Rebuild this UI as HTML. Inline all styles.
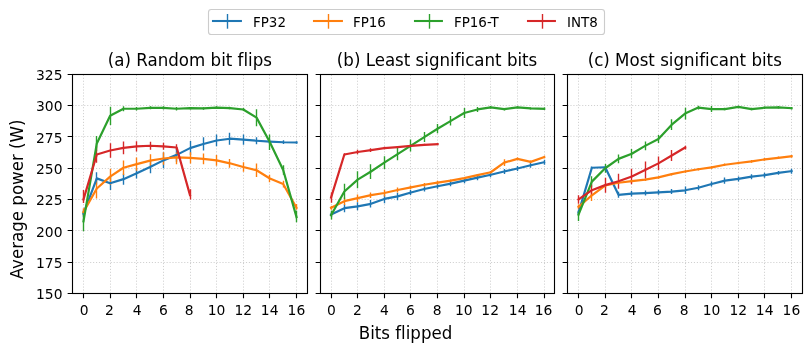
<!DOCTYPE html>
<html><head><meta charset="utf-8"><title>Average power vs bits flipped</title>
<style>html,body{margin:0;padding:0;background:#fff;width:811px;height:353px;overflow:hidden}</style>
</head><body>
<svg width="811" height="353" viewBox="0 0 811 353" style="display:block;position:absolute;left:0;top:0;font-variant-ligatures:none;font-feature-settings:&quot;liga&quot; 0,&quot;clig&quot; 0" font-family="'DejaVu Sans', 'Liberation Sans', sans-serif">
<rect width="811" height="353" fill="#fff"/>
<path d="M83.5 293.5V74.5M110.5 293.5V74.5M136.5 293.5V74.5M163.5 293.5V74.5M190.5 293.5V74.5M216.5 293.5V74.5M243.5 293.5V74.5M269.5 293.5V74.5M296.5 293.5V74.5M72.5 293.5H307.5M72.5 262.5H307.5M72.5 230.5H307.5M72.5 199.5H307.5M72.5 168.5H307.5M72.5 136.5H307.5M72.5 105.5H307.5M72.5 74.5H307.5" stroke="#b0b0b0" stroke-opacity="0.6" stroke-width="1" stroke-dasharray="1.11 1.83" fill="none"/>
<clipPath id="c0"><rect x="72.5" y="74.5" width="235.0" height="219.0"/></clipPath>
<g clip-path="url(#c0)" fill="none">
<path d="M83.5 209.80V217.31M96.5 172.26V184.53M110.5 176.64V189.91M123.5 173.64V184.65M136.5 168.01V178.52M150.5 160.75V173.26M163.5 152.49V168.26M176.5 147.98V161.75M190.5 141.10V155.12M203.5 137.35V150.61M216.5 134.59V146.36M229.5 132.72V144.73M243.5 134.59V144.85M256.5 137.22V144.23M269.5 139.10V144.10M283.5 140.35V144.10M296.5 141.23V143.73" stroke="#1f77b4" stroke-width="1.39"/>
<path d="M83.5 208.30V215.81M96.5 178.52V198.54M110.5 168.63V184.65M123.5 160.62V174.89M136.5 157.49V170.76M150.5 154.37V166.88M163.5 152.24V164.75M176.5 152.61V164.13M190.5 152.36V163.38M203.5 153.49V164.25M216.5 154.99V165.75M229.5 158.93V167.69M243.5 162.37V171.64M256.5 163.50V177.02M269.5 174.76V182.27M283.5 180.65V187.40M296.5 204.05V209.68" stroke="#ff7f0e" stroke-width="1.39"/>
<path d="M83.5 211.31V231.33M96.5 135.97V150.99M110.5 106.69V124.96M123.5 106.37V111.13M136.5 107.12V110.38M150.5 106.31V109.31M163.5 106.19V109.44M176.5 107.12V110.38M190.5 106.94V109.44M203.5 107.19V109.69M216.5 106.31V108.81M229.5 106.81V109.31M243.5 108.00V111.00M256.5 109.13V126.15M269.5 134.47V149.99M283.5 165.25V174.76M296.5 210.81V222.19" stroke="#2ca02c" stroke-width="1.39"/>
<path d="M83.5 190.03V202.92M96.5 146.36V162.63M110.5 143.23V157.74M123.5 141.41V154.18M136.5 141.23V151.49M150.5 141.73V149.74M163.5 142.85V149.86M176.5 144.23V149.99M190.5 189.16V199.42" stroke="#d62728" stroke-width="1.39"/>
<polyline points="83.50,213.56 96.81,178.39 110.12,183.27 123.44,179.14 136.75,173.26 150.06,167.01 163.38,160.37 176.69,154.87 190.00,148.11 203.31,143.98 216.62,140.47 229.94,138.72 243.25,139.72 256.56,140.73 269.88,141.60 283.19,142.23 296.50,142.48" stroke="#1f77b4" stroke-width="2.2" stroke-linejoin="round" stroke-linecap="square"/>
<polyline points="83.50,212.06 96.81,188.53 110.12,176.64 123.44,167.76 136.75,164.13 150.06,160.62 163.38,158.50 176.69,157.37 190.00,157.87 203.31,158.87 216.62,160.37 229.94,163.31 243.25,167.01 256.56,170.26 269.88,178.52 283.19,184.02 296.50,207.80" stroke="#ff7f0e" stroke-width="2.2" stroke-linejoin="round" stroke-linecap="square"/>
<polyline points="83.50,221.32 96.81,143.48 110.12,115.82 123.44,108.75 136.75,108.75 150.06,107.81 163.38,107.81 176.69,108.75 190.00,108.19 203.31,108.44 216.62,107.56 229.94,108.06 243.25,109.50 256.56,117.64 269.88,142.23 283.19,170.01 296.50,217.06" stroke="#2ca02c" stroke-width="2.2" stroke-linejoin="round" stroke-linecap="square"/>
<polyline points="83.50,199.42 96.81,154.49 110.12,150.49 123.44,147.80 136.75,146.36 150.06,145.73 163.38,146.36 176.69,147.48 190.00,195.04" stroke="#d62728" stroke-width="2.2" stroke-linejoin="round" stroke-linecap="square"/>
</g>
<rect x="72.5" y="74.5" width="235.0" height="219.0" fill="none" stroke="#000" stroke-width="1.11" />
<path d="M83.5 293.5v4.86M110.5 293.5v4.86M136.5 293.5v4.86M163.5 293.5v4.86M190.5 293.5v4.86M216.5 293.5v4.86M243.5 293.5v4.86M269.5 293.5v4.86M296.5 293.5v4.86M72.5 293.5h-4.86M72.5 262.5h-4.86M72.5 230.5h-4.86M72.5 199.5h-4.86M72.5 168.5h-4.86M72.5 136.5h-4.86M72.5 105.5h-4.86M72.5 74.5h-4.86" stroke="#000" stroke-width="1.11" fill="none"/>
<text transform="translate(84.10 314.60) scale(1.0 1.07)" font-size="13.89px" text-anchor="middle">0</text>
<text transform="translate(109.30 314.60) scale(1.0 1.07)" font-size="13.89px" text-anchor="middle">2</text>
<text transform="translate(137.25 314.60) scale(1.0 1.07)" font-size="13.89px" text-anchor="middle">4</text>
<text transform="translate(163.30 314.60) scale(1.0 1.07)" font-size="13.89px" text-anchor="middle">6</text>
<text transform="translate(189.20 314.60) scale(1.0 1.07)" font-size="13.89px" text-anchor="middle">8</text>
<text transform="translate(216.50 314.60) scale(1.0 1.07)" font-size="13.89px" text-anchor="middle">10</text>
<text transform="translate(243.30 314.60) scale(1.0 1.07)" font-size="13.89px" text-anchor="middle">12</text>
<text transform="translate(269.70 314.60) scale(1.0 1.07)" font-size="13.89px" text-anchor="middle">14</text>
<text transform="translate(296.45 314.60) scale(1.0 1.07)" font-size="13.89px" text-anchor="middle">16</text>
<text transform="translate(62.50 298.90) scale(1.0 1.07)" font-size="13.89px" text-anchor="end">150</text>
<text transform="translate(62.50 267.90) scale(1.0 1.07)" font-size="13.89px" text-anchor="end">175</text>
<text transform="translate(62.50 236.90) scale(1.0 1.07)" font-size="13.89px" text-anchor="end">200</text>
<text transform="translate(62.50 204.90) scale(1.0 1.07)" font-size="13.89px" text-anchor="end">225</text>
<text transform="translate(62.50 173.90) scale(1.0 1.07)" font-size="13.89px" text-anchor="end">250</text>
<text transform="translate(62.50 142.90) scale(1.0 1.07)" font-size="13.89px" text-anchor="end">275</text>
<text transform="translate(62.50 110.90) scale(1.0 1.07)" font-size="13.89px" text-anchor="end">300</text>
<text transform="translate(62.50 79.90) scale(1.0 1.07)" font-size="13.89px" text-anchor="end">325</text>
<text transform="translate(189.90 65.60) scale(1.0 1.08)" font-size="16.67px" text-anchor="middle">(a) Random bit flips</text>
<path d="M331.5 293.5V74.5M357.5 293.5V74.5M384.5 293.5V74.5M410.5 293.5V74.5M437.5 293.5V74.5M464.5 293.5V74.5M490.5 293.5V74.5M517.5 293.5V74.5M544.5 293.5V74.5M320.5 293.5H554.5M320.5 262.5H554.5M320.5 230.5H554.5M320.5 199.5H554.5M320.5 168.5H554.5M320.5 136.5H554.5M320.5 105.5H554.5M320.5 74.5H554.5" stroke="#b0b0b0" stroke-opacity="0.6" stroke-width="1" stroke-dasharray="1.11 1.83" fill="none"/>
<clipPath id="c1"><rect x="320.5" y="74.5" width="234.0" height="219.0"/></clipPath>
<g clip-path="url(#c1)" fill="none">
<path d="M331.5 211.93V216.94M344.5 204.17V212.18M357.5 202.30V210.30M370.5 200.04V207.55M384.5 194.54V203.30M397.5 192.66V200.17M410.5 190.03V195.04M424.5 186.53V191.53M437.5 183.77V188.78M450.5 181.15V186.15M464.5 178.14V183.15M477.5 175.14V180.15M490.5 172.26V177.27M504.5 169.01V174.01M517.5 166.00V171.01M530.5 162.75V167.76M544.5 159.75V164.75" stroke="#1f77b4" stroke-width="1.39"/>
<path d="M331.5 205.92V209.68M344.5 197.41V204.92M357.5 194.41V201.92M370.5 192.41V197.92M384.5 189.66V196.41M397.5 187.53V192.53M410.5 185.53V189.28M424.5 182.90V186.65M437.5 180.77V184.53M450.5 179.39V181.90M464.5 176.89V179.39M477.5 173.89V176.39M490.5 171.01V173.51M504.5 159.25V166.00M517.5 157.62V160.12M530.5 160.62V163.13M544.5 155.87V158.37" stroke="#ff7f0e" stroke-width="1.39"/>
<path d="M331.5 210.81V219.57M344.5 183.77V199.29M357.5 171.13V188.15M370.5 164.13V178.89M384.5 156.37V168.88M397.5 147.98V160.25M410.5 139.60V151.61M424.5 132.09V142.10M437.5 124.08V133.34M450.5 116.07V125.58M464.5 107.94V117.95M477.5 106.94V111.94M490.5 106.06V108.56M504.5 107.94V110.44M517.5 106.31V108.31M530.5 107.44V109.44M544.5 107.56V110.07" stroke="#2ca02c" stroke-width="1.39"/>
<path d="M331.5 192.41V202.67M344.5 153.24V155.74M357.5 149.74V154.24M370.5 148.23V151.99M384.5 146.86V149.36M397.5 146.11V148.11M410.5 144.85V146.86M424.5 143.85V145.86M437.5 143.10V145.11" stroke="#d62728" stroke-width="1.39"/>
<polyline points="331.05,214.43 344.36,208.18 357.68,206.30 370.99,203.80 384.30,198.92 397.61,196.41 410.93,192.53 424.24,189.03 437.55,186.28 450.86,183.65 464.18,180.65 477.49,177.64 490.80,174.76 504.11,171.51 517.42,168.51 530.74,165.25 544.05,162.25" stroke="#1f77b4" stroke-width="2.2" stroke-linejoin="round" stroke-linecap="square"/>
<polyline points="331.05,207.80 344.36,201.17 357.68,198.17 370.99,195.16 384.30,193.03 397.61,190.03 410.93,187.40 424.24,184.78 437.55,182.65 450.86,180.65 464.18,178.14 477.49,175.14 490.80,172.26 504.11,162.63 517.42,158.87 530.74,161.87 544.05,157.12" stroke="#ff7f0e" stroke-width="2.2" stroke-linejoin="round" stroke-linecap="square"/>
<polyline points="331.05,215.19 344.36,191.53 357.68,179.64 370.99,171.51 384.30,162.63 397.61,154.12 410.93,145.61 424.24,137.10 437.55,128.71 450.86,120.83 464.18,112.94 477.49,109.44 490.80,107.31 504.11,109.19 517.42,107.31 530.74,108.44 544.05,108.81" stroke="#2ca02c" stroke-width="2.2" stroke-linejoin="round" stroke-linecap="square"/>
<polyline points="331.05,197.54 344.36,154.49 357.68,151.99 370.99,150.11 384.30,148.11 397.61,147.11 410.93,145.86 424.24,144.85 437.55,144.10" stroke="#d62728" stroke-width="2.2" stroke-linejoin="round" stroke-linecap="square"/>
</g>
<rect x="320.5" y="74.5" width="234.0" height="219.0" fill="none" stroke="#000" stroke-width="1.11" />
<path d="M331.5 293.5v4.86M357.5 293.5v4.86M384.5 293.5v4.86M410.5 293.5v4.86M437.5 293.5v4.86M464.5 293.5v4.86M490.5 293.5v4.86M517.5 293.5v4.86M544.5 293.5v4.86M320.5 293.5h-4.86M320.5 262.5h-4.86M320.5 230.5h-4.86M320.5 199.5h-4.86M320.5 168.5h-4.86M320.5 136.5h-4.86M320.5 105.5h-4.86M320.5 74.5h-4.86" stroke="#000" stroke-width="1.11" fill="none"/>
<text transform="translate(331.40 314.60) scale(1.0 1.07)" font-size="13.89px" text-anchor="middle">0</text>
<text transform="translate(357.30 314.60) scale(1.0 1.07)" font-size="13.89px" text-anchor="middle">2</text>
<text transform="translate(384.40 314.60) scale(1.0 1.07)" font-size="13.89px" text-anchor="middle">4</text>
<text transform="translate(410.40 314.60) scale(1.0 1.07)" font-size="13.89px" text-anchor="middle">6</text>
<text transform="translate(437.20 314.60) scale(1.0 1.07)" font-size="13.89px" text-anchor="middle">8</text>
<text transform="translate(463.75 314.60) scale(1.0 1.07)" font-size="13.89px" text-anchor="middle">10</text>
<text transform="translate(490.20 314.60) scale(1.0 1.07)" font-size="13.89px" text-anchor="middle">12</text>
<text transform="translate(517.70 314.60) scale(1.0 1.07)" font-size="13.89px" text-anchor="middle">14</text>
<text transform="translate(543.60 314.60) scale(1.0 1.07)" font-size="13.89px" text-anchor="middle">16</text>
<text transform="translate(437.05 65.60) scale(1.0 1.08)" font-size="16.67px" text-anchor="middle">(b) Least significant bits</text>
<path d="M578.5 293.5V74.5M605.5 293.5V74.5M631.5 293.5V74.5M658.5 293.5V74.5M685.5 293.5V74.5M711.5 293.5V74.5M738.5 293.5V74.5M764.5 293.5V74.5M791.5 293.5V74.5M567.5 293.5H802.5M567.5 262.5H802.5M567.5 230.5H802.5M567.5 199.5H802.5M567.5 168.5H802.5M567.5 136.5H802.5M567.5 105.5H802.5M567.5 74.5H802.5" stroke="#b0b0b0" stroke-opacity="0.6" stroke-width="1" stroke-dasharray="1.11 1.83" fill="none"/>
<clipPath id="c2"><rect x="567.5" y="74.5" width="235.0" height="219.0"/></clipPath>
<g clip-path="url(#c2)" fill="none">
<path d="M578.5 210.05V215.06M591.5 166.50V169.01M605.5 166.00V168.51M618.5 191.78V197.79M631.5 190.91V196.41M645.5 190.53V195.54M658.5 189.78V194.79M671.5 189.03V194.04M685.5 186.53V194.04M698.5 185.28V190.28M711.5 181.52V186.53M724.5 177.52V183.77M738.5 176.39V181.40M751.5 174.14V179.14M764.5 172.64V177.64M778.5 171.01V174.76M791.5 168.63V173.64" stroke="#1f77b4" stroke-width="1.39"/>
<path d="M578.5 204.42V209.43M591.5 189.53V201.04M605.5 183.65V187.40M618.5 181.52V184.02M631.5 179.89V182.40M645.5 178.39V180.90M658.5 176.14V178.64M671.5 172.89V175.39M685.5 170.26V172.76M698.5 168.01V170.51M711.5 166.13V168.63M724.5 163.50V166.00M738.5 161.75V164.25M751.5 160.12V162.63M764.5 158.12V160.62M778.5 156.62V159.12M791.5 154.99V157.49" stroke="#ff7f0e" stroke-width="1.39"/>
<path d="M578.5 210.93V220.94M591.5 176.14V187.15M605.5 163.88V172.64M618.5 154.62V163.13M631.5 149.11V158.37M645.5 141.48V150.24M658.5 135.09V143.10M671.5 119.33V130.09M685.5 107.69V119.45M698.5 105.69V109.44M711.5 106.06V112.07M724.5 107.81V110.32M738.5 105.69V108.19M751.5 107.81V110.32M764.5 106.44V108.94M778.5 106.06V108.56M791.5 106.94V109.44" stroke="#2ca02c" stroke-width="1.39"/>
<path d="M578.5 195.16V203.67M591.5 184.15V196.16M605.5 177.64V192.66M618.5 173.76V188.78M631.5 168.76V184.27M645.5 161.62V178.39M658.5 156.62V170.13M671.5 149.99V161.00M685.5 145.73V149.49" stroke="#d62728" stroke-width="1.39"/>
<polyline points="578.55,212.56 591.86,167.76 605.17,167.26 618.49,194.79 631.80,193.66 645.11,193.03 658.42,192.28 671.74,191.53 685.05,190.28 698.36,187.78 711.67,184.02 724.99,180.65 738.30,178.89 751.61,176.64 764.92,175.14 778.24,172.89 791.55,171.13" stroke="#1f77b4" stroke-width="2.2" stroke-linejoin="round" stroke-linecap="square"/>
<polyline points="578.55,206.93 591.86,195.29 605.17,185.53 618.49,182.77 631.80,181.15 645.11,179.64 658.42,177.39 671.74,174.14 685.05,171.51 698.36,169.26 711.67,167.38 724.99,164.75 738.30,163.00 751.61,161.37 764.92,159.37 778.24,157.87 791.55,156.24" stroke="#ff7f0e" stroke-width="2.2" stroke-linejoin="round" stroke-linecap="square"/>
<polyline points="578.55,214.68 591.86,181.65 605.17,168.26 618.49,158.87 631.80,153.74 645.11,145.86 658.42,139.10 671.74,124.71 685.05,113.57 698.36,107.56 711.67,109.06 724.99,109.06 738.30,106.94 751.61,109.06 764.92,107.69 778.24,107.31 791.55,108.19" stroke="#2ca02c" stroke-width="2.2" stroke-linejoin="round" stroke-linecap="square"/>
<polyline points="578.55,199.42 591.86,190.16 605.17,185.15 618.49,181.27 631.80,176.52 645.11,170.01 658.42,163.38 671.74,155.49 685.05,147.61" stroke="#d62728" stroke-width="2.2" stroke-linejoin="round" stroke-linecap="square"/>
</g>
<rect x="567.5" y="74.5" width="235.0" height="219.0" fill="none" stroke="#000" stroke-width="1.11" />
<path d="M578.5 293.5v4.86M605.5 293.5v4.86M631.5 293.5v4.86M658.5 293.5v4.86M685.5 293.5v4.86M711.5 293.5v4.86M738.5 293.5v4.86M764.5 293.5v4.86M791.5 293.5v4.86M567.5 293.5h-4.86M567.5 262.5h-4.86M567.5 230.5h-4.86M567.5 199.5h-4.86M567.5 168.5h-4.86M567.5 136.5h-4.86M567.5 105.5h-4.86M567.5 74.5h-4.86" stroke="#000" stroke-width="1.11" fill="none"/>
<text transform="translate(579.10 314.60) scale(1.0 1.07)" font-size="13.89px" text-anchor="middle">0</text>
<text transform="translate(604.30 314.60) scale(1.0 1.07)" font-size="13.89px" text-anchor="middle">2</text>
<text transform="translate(632.25 314.60) scale(1.0 1.07)" font-size="13.89px" text-anchor="middle">4</text>
<text transform="translate(657.40 314.60) scale(1.0 1.07)" font-size="13.89px" text-anchor="middle">6</text>
<text transform="translate(684.20 314.60) scale(1.0 1.07)" font-size="13.89px" text-anchor="middle">8</text>
<text transform="translate(711.50 314.60) scale(1.0 1.07)" font-size="13.89px" text-anchor="middle">10</text>
<text transform="translate(738.30 314.60) scale(1.0 1.07)" font-size="13.89px" text-anchor="middle">12</text>
<text transform="translate(764.70 314.60) scale(1.0 1.07)" font-size="13.89px" text-anchor="middle">14</text>
<text transform="translate(791.45 314.60) scale(1.0 1.07)" font-size="13.89px" text-anchor="middle">16</text>
<text transform="translate(684.75 65.60) scale(1.0 1.08)" font-size="16.67px" text-anchor="middle">(c) Most significant bits</text>
<text transform="translate(22.80 199.40) rotate(-90) scale(1.0 1.08)" font-size="16.67px" text-anchor="middle">Average power (W)</text>
<text transform="translate(405.50 339.40) scale(1.0 1.08)" font-size="16.67px" text-anchor="middle">Bits flipped</text>
<rect x="208.5" y="9.5" width="396" height="25" rx="2.8" fill="#fff" fill-opacity="0.8" stroke="#ccc" stroke-width="1.11"/>
<path d="M213.0 21h27.9" stroke="#1f77b4" stroke-width="2.08" stroke-linecap="square" fill="none"/>
<path d="M227.5 14v14.7" stroke="#1f77b4" stroke-width="1.39" fill="none"/>
<text transform="translate(253.00 27.30) scale(0.97 1.07)" font-size="13.89px" text-anchor="start">FP32</text>
<path d="M314.0 21h27.9" stroke="#ff7f0e" stroke-width="2.08" stroke-linecap="square" fill="none"/>
<path d="M328.5 14v14.7" stroke="#ff7f0e" stroke-width="1.39" fill="none"/>
<text transform="translate(352.90 27.30) scale(0.97 1.07)" font-size="13.89px" text-anchor="start">FP16</text>
<path d="M415.0 21h26.9" stroke="#2ca02c" stroke-width="2.08" stroke-linecap="square" fill="none"/>
<path d="M429.5 14v14.7" stroke="#2ca02c" stroke-width="1.39" fill="none"/>
<text transform="translate(453.90 27.30) scale(0.97 1.07)" font-size="13.89px" text-anchor="start">FP16-T</text>
<path d="M528.0 21h26.9" stroke="#d62728" stroke-width="2.08" stroke-linecap="square" fill="none"/>
<path d="M542.5 14v14.7" stroke="#d62728" stroke-width="1.39" fill="none"/>
<text transform="translate(567.00 27.30) scale(0.97 1.07)" font-size="13.89px" text-anchor="start">INT8</text>
</svg>
</body></html>
